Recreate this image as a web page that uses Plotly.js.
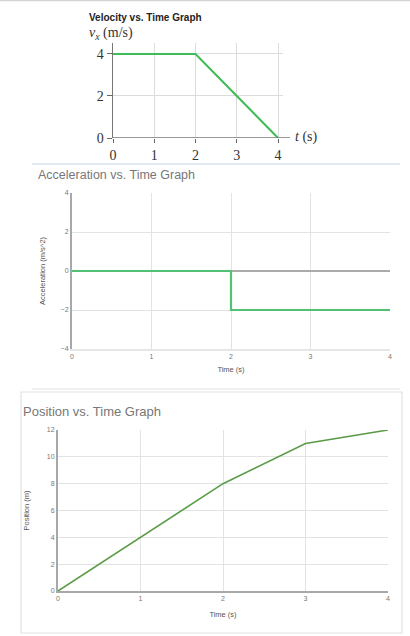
<!DOCTYPE html>
<html><head><meta charset="utf-8">
<script src="https://cdn.plot.ly/plotly-3.0.1.min.js"></script>
<style>html,body{margin:0;padding:0;background:#fff;}#c{width:410px;height:636px;}</style>
</head><body><div id="c"></div>
<script>
// Velocity vs time
const velTime = [0, 2, 4];
const velValues = [4, 4, 0];
// Acceleration vs time (step)
const accTime = [0, 2, 4];
const accValues = [0, -2, -2];
// Position vs time
const posTime = [0, 1, 2, 3, 4];
const posValues = [0, 4, 8, 11, 12];
// Tick values
const velXTicks = [0, 1, 2, 3, 4];
const velYTicks = [0, 2, 4];
const accXTicks = [0, 1, 2, 3, 4];
const accYTicks = [-4, -2, 0, 2, 4];
const posXTicks = [0, 1, 2, 3, 4];
const posYTicks = [0, 2, 4, 6, 8, 10, 12];

const W = 410, H = 636;
const px = v => v / W;
const py = v => 1 - v / H;

const serif = 'Liberation Serif, Times New Roman, serif';
const sans = 'Liberation Sans, Arial, sans-serif';

const traces = [
  {x: velTime, y: velValues, xaxis: 'x', yaxis: 'y', mode: 'lines',
   line: {color: '#3fbc55', width: 2}, hoverinfo: 'skip', cliponaxis: false},
  {x: accTime, y: accValues, xaxis: 'x2', yaxis: 'y2', mode: 'lines',
   line: {color: '#52c174', width: 2.2, shape: 'hv'}, hoverinfo: 'skip'},
  {x: posTime, y: posValues, xaxis: 'x3', yaxis: 'y3', mode: 'lines',
   line: {color: '#5a9b45', width: 1.6}, hoverinfo: 'skip'}
];

const gridC = '#e3e3e3';
const layout = {
  width: W, height: H, margin: {l: 0, r: 0, t: 0, b: 0},
  paper_bgcolor: '#fff', plot_bgcolor: 'rgba(0,0,0,0)', showlegend: false,
  // velocity chart
  xaxis: {domain: [px(113), px(283)], range: [0, 4.12], tickvals: velXTicks,
    ticktext: velXTicks.map(String), showgrid: true, gridcolor: '#dcdcdc', gridwidth: 1,
    zeroline: false, showline: false, ticks: 'outside', ticklen: 4, tickcolor: '#666',
    tickfont: {family: serif, size: 14, color: '#333'}, anchor: 'y', fixedrange: true},
  yaxis: {domain: [py(138), py(43)], range: [0, 4.52], tickvals: velYTicks,
    showgrid: true, gridcolor: '#dcdcdc', zeroline: false, showline: true,
    linecolor: '#777', linewidth: 1.5, ticks: 'outside', ticklen: 5, tickcolor: '#666',
    tickfont: {family: serif, size: 14, color: '#333'}, anchor: 'x', fixedrange: true},
  // acceleration chart
  xaxis2: {domain: [px(72), px(390)], range: [0, 4], tickvals: accXTicks,
    showgrid: true, gridcolor: gridC, zeroline: false, showline: true, linecolor: '#e6e6e6',
    linewidth: 1.5, ticks: '', tickfont: {family: sans, size: 7, color: '#777'},
    title: {text: 'Time (s)', font: {family: sans, size: 7.5, color: '#555'}, standoff: 8},
    anchor: 'y2', fixedrange: true},
  yaxis2: {domain: [py(349), py(193)], range: [-4, 4], tickvals: accYTicks,
    showgrid: true, gridcolor: gridC, zeroline: true, zerolinecolor: '#aaaaaa', zerolinewidth: 2,
    showline: true, linecolor: '#a8a8a8', linewidth: 2, ticks: '',
    tickfont: {family: sans, size: 7, color: '#777'},
    title: {text: 'Acceleration (m/s^2)', font: {family: sans, size: 7.5, color: '#555'}, standoff: 14},
    anchor: 'x2', fixedrange: true},
  // position chart
  xaxis3: {domain: [px(58), px(388)], range: [0, 4], tickvals: posXTicks,
    showgrid: true, gridcolor: gridC, zeroline: false, showline: true, linecolor: '#a8a8a8',
    linewidth: 2, ticks: '', tickfont: {family: sans, size: 7, color: '#777'},
    title: {text: 'Time (s)', font: {family: sans, size: 7.5, color: '#555'}, standoff: 10},
    anchor: 'y3', fixedrange: true},
  yaxis3: {domain: [py(591), py(430)], range: [0, 12], tickvals: posYTicks,
    showgrid: true, gridcolor: gridC, zeroline: false, showline: true, linecolor: '#a8a8a8',
    linewidth: 2, ticks: '', tickfont: {family: sans, size: 7, color: '#777'},
    title: {text: 'Position (m)', font: {family: sans, size: 7.5, color: '#555'}, standoff: 16},
    anchor: 'x3', fixedrange: true},
  annotations: [
    {xref: 'paper', yref: 'paper', x: px(87), y: py(17), xanchor: 'left', yanchor: 'middle',
     text: '<b>Velocity vs. Time Graph</b>', showarrow: false,
     font: {family: sans, size: 10, color: '#222'}},
    {xref: 'paper', yref: 'paper', x: px(87), y: py(34), xanchor: 'left', yanchor: 'middle',
     text: '<i>v</i><sub><i>x</i></sub> (m/s)', showarrow: false,
     font: {family: serif, size: 14, color: '#333'}},
    {xref: 'paper', yref: 'paper', x: px(293), y: py(137), xanchor: 'left', yanchor: 'middle',
     text: '<i>t</i> (s)', showarrow: false,
     font: {family: serif, size: 14, color: '#333'}},
    {xref: 'paper', yref: 'paper', x: px(36), y: py(175), xanchor: 'left', yanchor: 'middle',
     text: 'Acceleration vs. Time Graph', showarrow: false,
     font: {family: sans, size: 12.5, color: '#777'}},
    {xref: 'paper', yref: 'paper', x: px(21), y: py(411), xanchor: 'left', yanchor: 'middle',
     text: 'Position vs. Time Graph', showarrow: false,
     font: {family: sans, size: 13, color: '#777'}}
  ],
  shapes: [
    {type: 'line', xref: 'paper', yref: 'paper', x0: 0, x1: 1, y0: py(0.5), y1: py(0.5),
     line: {color: '#d4d4d4', width: 1.5}},
    {type: 'line', xref: 'paper', yref: 'paper', x0: px(32), x1: px(400), y0: py(164), y1: py(164),
     line: {color: '#c8d4e6', width: 1}},
    {type: 'line', xref: 'paper', yref: 'paper', x0: px(32), x1: px(400), y0: py(389), y1: py(389),
     line: {color: '#e0e0e0', width: 1}},
    {type: 'rect', xref: 'paper', yref: 'paper', x0: px(21), x1: px(402), y0: py(633), y1: py(392),
     line: {color: '#e2e2e2', width: 1.2}},
    // velocity time axis line, extending past the last gridline toward "t (s)"
    {type: 'line', xref: 'paper', yref: 'y', x0: px(113), x1: px(290), y0: 0, y1: 0,
     line: {color: '#777', width: 1.5}}
  ]
};

Plotly.newPlot('c', traces, layout, {staticPlot: true, displayModeBar: false});
</script></body></html>
